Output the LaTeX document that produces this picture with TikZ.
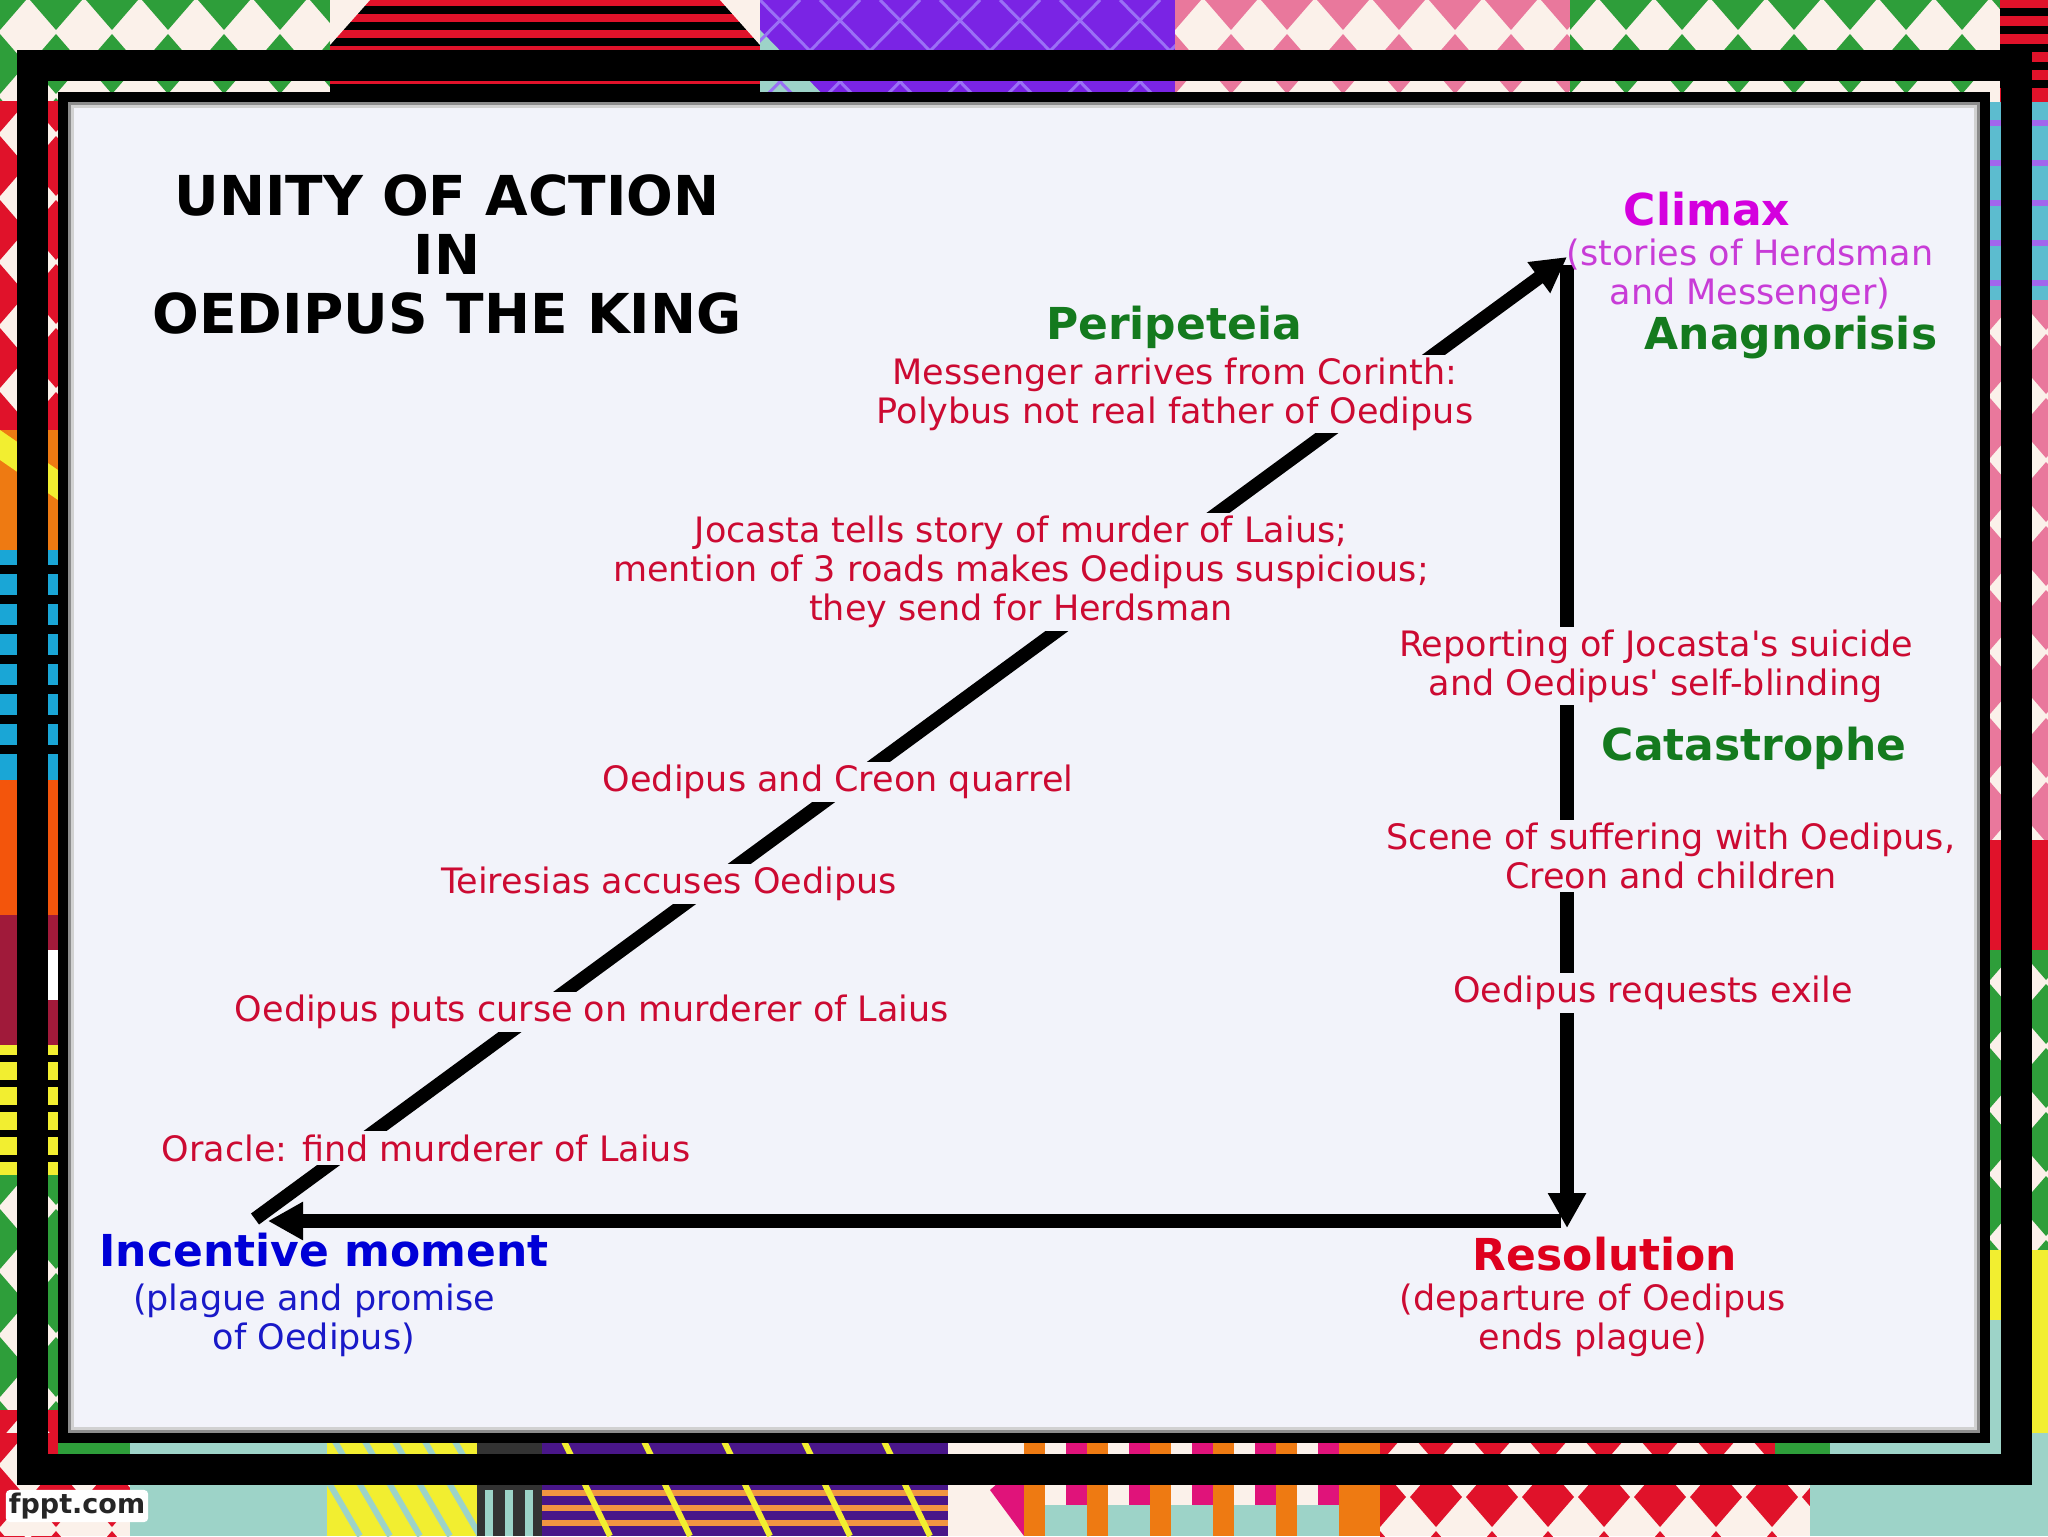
\documentclass[tikz,border=0pt]{standalone}
\usepackage{fontspec}
\setmainfont{DejaVu Sans}
\usetikzlibrary{arrows.meta}

\definecolor{panel}{HTML}{F2F3FA}
\definecolor{txtred}{RGB}{204,10,50}
\definecolor{hdred}{RGB}{222,0,30}
\definecolor{hdgreen}{RGB}{20,122,30}
\definecolor{hdmag}{RGB}{212,0,222}
\definecolor{submag}{RGB}{200,60,215}
\definecolor{hdblue}{RGB}{0,0,215}
\definecolor{subblue}{RGB}{25,25,200}
\definecolor{agreen}{HTML}{2E9E3A}
\definecolor{cream}{HTML}{FBF1EA}
\definecolor{apink}{HTML}{E9789C}
\definecolor{ared}{HTML}{E0122A}
\definecolor{purp}{HTML}{7A24E4}
\definecolor{lpurp}{HTML}{9A70F5}
\definecolor{teal}{HTML}{9DD3C8}
\definecolor{yel}{HTML}{F2EE30}
\definecolor{orng}{HTML}{EE7A12}
\definecolor{mag}{HTML}{E0137A}
\definecolor{cyanb}{HTML}{1AA6D6}
\definecolor{dred}{HTML}{A01A3A}

\newcommand{\sq}{\XeTeXglyph\XeTeXcharglyph"0027\relax}

% argyle block: x0,y0,x1,y1,bg,fg
\newcommand{\argyle}[6]{%
  \begin{scope}
    \clip (#1,#2) rectangle (#3,#4);
    \fill[#5] (#1,#2) rectangle (#3,#4);
    \pgfmathtruncatemacro{\argnx}{(#3-#1)/56+1}
    \pgfmathtruncatemacro{\argny}{(#4-#2)/64+1}
    \foreach \i in {0,...,\argnx}{\foreach \j in {0,...,\argny}{
      \fill[#6] (#1+\i*56,#2+\j*64-30) -- ++(26,30) -- ++(-26,30) -- ++(-26,-30) -- cycle;
    }}
  \end{scope}}

\begin{document}
\begin{tikzpicture}[x=0.5pt,y=-0.5pt,
  ev/.style={font=\fontsize{17.5}{19.5}\selectfont, text=txtred, align=center, fill=panel, inner sep=1.5pt},
  subtxt/.style={font=\fontsize{17.5}{19.5}\selectfont, align=center, inner sep=0pt},
  hd/.style={font=\bfseries\fontsize{22}{24}\selectfont, align=center, inner sep=0pt},
  titlestyle/.style={font=\bfseries\fontsize{27.5}{29.5}\selectfont, align=center, inner sep=0pt},
  arr/.style={line width=6.8pt, -{Triangle[length=17.5pt,width=18pt]}}]
\useasboundingbox (0,0) rectangle (2048,1536);
\fill[cream] (0,0) rectangle (2048,1536);

% ---------- decorative plaid border ----------
% top
\argyle{0}{0}{340}{102}{cream}{agreen}
\begin{scope}
  \clip (330,0) rectangle (760,102);
  \fill[ared] (330,0) rectangle (760,102);
  \foreach \yy in {6,22,38,84} \fill[black] (330,\yy) rectangle (760,\yy+8);
  \fill[cream] (330,0) -- (370,0) -- (330,45) -- cycle;
  \fill[cream] (760,0) -- (720,0) -- (760,45) -- cycle;
\end{scope}
\begin{scope}
  \clip (760,0) rectangle (1175,102);
  \fill[purp] (760,0) rectangle (1175,102);
  \fill[teal] (760,102) -- (760,30) -- (830,102) -- cycle;
  \foreach \k in {700,760,...,1200} {
    \draw[lpurp, line width=1.5pt] (\k,0) -- (\k+100,102);
    \draw[lpurp, line width=1.5pt] (\k+100,0) -- (\k,102);
  }
\end{scope}
\argyle{1175}{0}{1570}{102}{cream}{apink}
\argyle{1570}{0}{2000}{102}{cream}{agreen}
\begin{scope}
  \clip (2000,0) rectangle (2048,102);
  \fill[ared] (2000,0) rectangle (2048,102);
  \foreach \yy in {8,26,44,62,80} \fill[black] (2000,\yy) rectangle (2048,\yy+8);
\end{scope}
% left
\argyle{0}{102}{58}{430}{cream}{ared}
\fill[orng] (0,430) rectangle (58,550);
\fill[yel] (0,430) -- (58,470) -- (58,500) -- (0,460) -- cycle;
\fill[cyanb] (0,550) rectangle (58,780);
\foreach \yy in {565,595,...,760} \fill[black] (0,\yy) rectangle (58,\yy+9);
\fill[orng!70!red] (0,780) rectangle (58,915);
\fill[dred] (0,915) rectangle (58,1045);
\fill[white] (40,950) rectangle (58,1000);
\fill[yel] (0,1045) rectangle (58,1175);
\foreach \yy in {1055,1080,...,1170} \fill[black] (0,\yy) rectangle (58,\yy+7);
\argyle{0}{1175}{58}{1410}{cream}{agreen}
\argyle{0}{1410}{58}{1536}{cream}{ared}
% right
\fill[cyanb!50!teal] (1990,102) rectangle (2048,300);
\foreach \yy in {120,160,...,290} \fill[purp!70] (1990,\yy) rectangle (2048,\yy+6);
\argyle{1990}{300}{2048}{840}{cream}{apink}
\fill[ared] (1990,840) rectangle (2048,950);
\argyle{1990}{950}{2048}{1250}{cream}{agreen}
\fill[yel] (1990,1250) rectangle (2048,1536);
\fill[teal] (1990,1320) rectangle (2030,1536);
% bottom
\argyle{0}{1433}{130}{1536}{cream}{ared}
\fill[agreen] (58,1433) rectangle (130,1454);
\fill[teal] (130,1433) rectangle (327,1536);
\begin{scope}
  \clip (327,1433) rectangle (477,1536);
  \fill[yel] (327,1433) rectangle (477,1536);
  \foreach \k in {300,330,...,480} \draw[teal, line width=3pt] (\k,1433) -- (\k+60,1536);
\end{scope}
\fill[black!80] (477,1433) rectangle (542,1536);
\foreach \k in {485,505,525} \fill[teal] (\k,1490) rectangle (\k+8,1536);
\begin{scope}
  \clip (542,1433) rectangle (948,1536);
  \fill[purp!60!black] (542,1433) rectangle (948,1536);
  \foreach \yy in {1490,1505,1520} \fill[orng!80] (542,\yy) rectangle (948,\yy+6);
  \foreach \k in {560,640,...,940} \draw[yel, line width=3pt] (\k,1433) -- (\k+50,1536);
\end{scope}
\fill[cream] (948,1433) rectangle (1024,1536);
\fill[mag] (990,1490) -- (1024,1460) -- (1024,1536) -- cycle;
\fill[teal] (1024,1500) rectangle (1344,1536);
\foreach \xx in {1024,1087,...,1340} {
  \fill[orng] (\xx,1433) rectangle (\xx+21,1536);
  \fill[cream] (\xx+21,1433) rectangle (\xx+42,1505);
  \fill[mag] (\xx+42,1433) rectangle (\xx+63,1505);
}
\fill[orng] (1344,1433) rectangle (1380,1536);
\argyle{1380}{1433}{1810}{1536}{cream}{ared}
\fill[teal] (1810,1433) rectangle (2048,1536);
\fill[agreen] (1775,1443) rectangle (1830,1456);

% ---------- frames ----------
\draw[black, line width=15.5pt] (32.5,66) rectangle (2016,1469);
\draw[black, line width=5pt] (63,97) rectangle (1985,1438);
\fill[panel] (68,102) rectangle (1980,1433);
\draw[black!45, line width=1.5pt] (69.5,103.5) rectangle (1978.5,1431.5);
\draw[black!18, line width=1.5pt] (72.5,106.5) rectangle (1975.5,1428.5);

% ---------- title ----------
\node[titlestyle] (title) at (447,254) {UNITY OF ACTION\\IN\\OEDIPUS THE KING};

% ---------- arrows ----------
\coordinate (pIM) at (255,1219);
\coordinate (pCL) at (1567,257);
\coordinate (pRS) at (1567,1228);
\coordinate (pRSh) at (1561,1221);
\coordinate (pIMh) at (268,1221);
\draw[arr] (pIM) -- (pCL);
\draw[arr, shorten <=4pt] (pCL) -- (pRS);
\draw[arr] (pRSh) -- (pIMh);

% ---------- labels ----------
\node[hd, text=hdmag] (climax) at (1707,209) {Climax};
\node[subtxt, text=submag] (climaxsub) at (1750,275) {(stories of Herdsman\\and Messenger)};
\node[hd, text=hdgreen] (anag) at (1791,338) {Anagnorisis};
\node[hd, text=hdgreen] (perip) at (1174,327) {Peripeteia};
\node[ev] (messenger) at (1175,394) {Messenger arrives from Corinth:\\Polybus not real father of Oedipus};
\node[ev] (jocasta) at (1021,572) {Jocasta tells story of murder of Laius;\\mention of 3 roads makes Oedipus suspicious;\\they send for Herdsman};
\node[ev] (quarrel) at (838,782) {Oedipus and Creon quarrel};
\node[ev] (teir) at (669,884) {Teiresias accuses Oedipus};
\node[ev] (curse) at (592,1012) {Oedipus puts curse on murderer of Laius};
\node[ev] (oracle) at (426,1148) {Oracle: find murderer of Laius};
\node[hd, text=hdblue] (incent) at (324,1250) {Incentive moment};
\node[subtxt, text=subblue] (incentsub) at (314,1320) {(plague and promise\\of Oedipus)};
\node[hd, text=hdred] (resol) at (1605,1254) {Resolution};
\node[subtxt, text=txtred] (resolsub) at (1593,1320) {(departure of Oedipus\\ends plague)};
\node[ev] (report) at (1656,666) {Reporting of Jocasta\sq s suicide\\and Oedipus\sq{} self-blinding};
\node[hd, text=hdgreen] (catas) at (1754,748) {Catastrophe};
\node[ev] (scene) at (1671,856) {Scene of suffering with Oedipus,\\Creon and children};
\node[ev] (exile) at (1653,993) {Oedipus requests exile};

% ---------- footer ----------
\node[fill=white, rounded corners=2pt, inner sep=1.5pt, text=black!85,
      font=\bfseries\fontsize{13.5}{15}\selectfont] (fppt) at (77,1506) {fppt.com};
\end{tikzpicture}
\end{document}
